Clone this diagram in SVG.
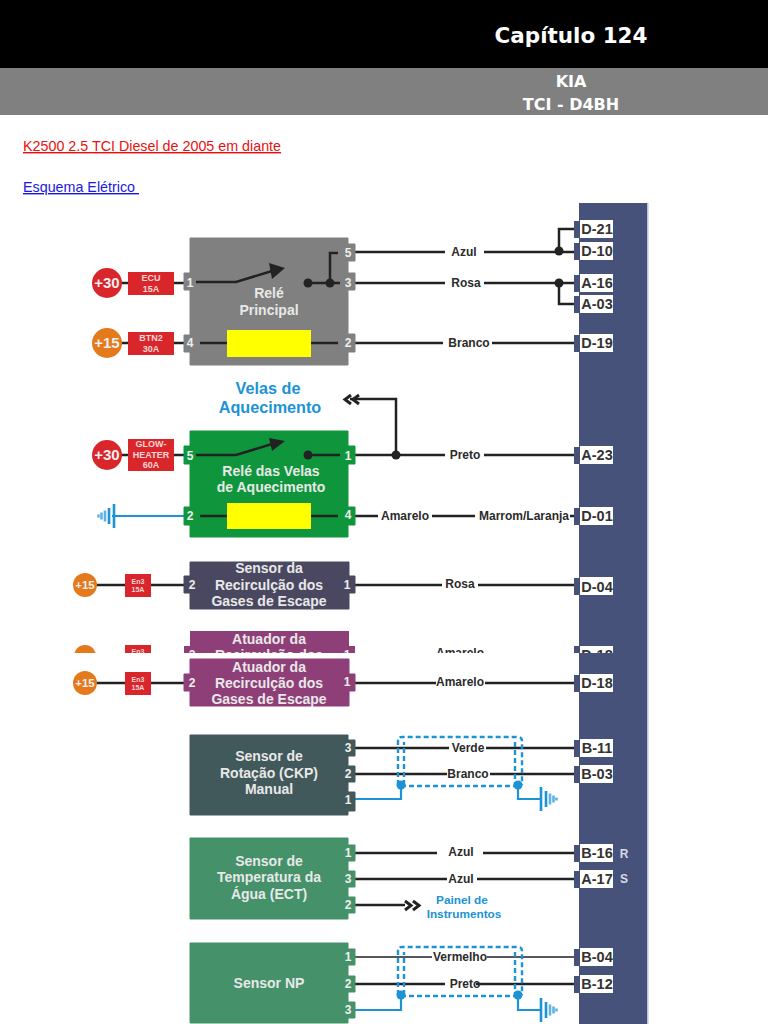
<svg xmlns="http://www.w3.org/2000/svg" width="768" height="1024" viewBox="0 0 768 1024">
<style>
text{font-family:"Liberation Sans",Arial,sans-serif;font-weight:bold}
.w{fill:none;stroke:#222;stroke-width:2.5}
.thin{stroke-width:1.5}
.b{fill:none;stroke:#1c93d4;stroke-width:2.2}
.d{fill:none;stroke:#1c93d4;stroke-width:2.4;stroke-dasharray:5 3}
.g{fill:none;stroke:#1c93d4;stroke-width:2.6}
.lbl{font-size:12px;fill:#2b2b2b;text-anchor:middle}
.pin{font-size:12px;fill:#eee;text-anchor:middle}
.t{font-size:14px;fill:#e8e8e8;text-anchor:middle}
.tag{fill:#fff}
.tab{fill:#47527a}
.pl{font-size:14.5px;fill:#333;text-anchor:middle}
.fuse{fill:#d9262a}
.ft{fill:#f4d6d6;text-anchor:middle;font-size:9px}
.fs{fill:#f4d6d6;text-anchor:middle;font-size:7px}
.r30{fill:#d9262a}
.o15{fill:#e57a1c}
.ct{fill:#eee;font-size:15px;text-anchor:middle}
.cs{fill:#eee;font-size:11.5px;text-anchor:middle}
.dot{fill:#222}
.bd{fill:#1c93d4}
.bt{fill:#1c93d4;text-anchor:middle;font-size:16.2px}
.bt2{fill:#1c93d4;text-anchor:middle;font-size:11.8px}
.hd{font-family:"DejaVu Sans",sans-serif;fill:#fff;text-anchor:middle}
.chev{fill:none;stroke:#222;stroke-width:3}
</style>
<defs>
<clipPath id="cut"><rect x="0" y="600" width="768" height="53"/></clipPath>
<g id="gnd"><path class="g" d="M0 -12V12M5 -8V8"/><path class="g" d="M9 -5.5V5.5M12.5 -3.5V3.5M15.5 -1.5V1.5" opacity="0.7"/></g>
</defs>
<rect width="768" height="1024" fill="#fff"/>
<g id="header">
<rect width="768" height="68" fill="#000"/>
<rect y="68" width="768" height="47" fill="#808080"/>
<text class="hd" x="571" y="43" font-size="22" textLength="153" lengthAdjust="spacingAndGlyphs">Capítulo 124</text>
<text class="hd" x="571" y="87" font-size="16">KIA</text>
<text class="hd" x="571" y="110" font-size="16">TCI - D4BH</text>
<text x="23" y="151" font-size="14.3" fill="#e81010" style="font-weight:normal" text-decoration="underline">K2500 2.5 TCI Diesel de 2005 em diante</text>
<text x="23" y="192" font-size="14.3" fill="#1a1ae0" style="font-weight:normal" text-decoration="underline">Esquema Elétrico&#160;</text>
</g>
<g id="ecu-bus"><rect x="579" y="203" width="69" height="821" fill="#47527a"/><rect x="647" y="203" width="1.5" height="821" fill="#b9c2d8"/></g>
<g id="connectors">
<path class="w" d="M355 252H445M484 252H574M559 251V229H574"/>
<path class="w" d="M355 283H445M484 283H574M559 283V304H574"/>
<path class="w" d="M355 343H443M492 343H574"/>
<path class="w" d="M355 455H445M484 455H574M396 455V399H350"/>
<path class="w" d="M355 516H378M432 516H475M570 516H574"/>
<path class="w" d="M355 585H442M478 585H574"/>
<path class="w" d="M355 683H436M485 683H574"/>
<path class="w" d="M355 748H449M486 748H574M355 774H447M490 774H574"/>
<path class="w" d="M355 853H437M483 853H574M355 879H447M477 879H574"/>
<path class="w" d="M355 905H405"/>
<path class="w thin" d="M355 957H432M487 957H574"/>
<path class="w" d="M355 984H445M476 984H574"/>
<path class="w" d="M102 283H128M174 283H184M102 343H128M174 343H184M102 455H128M174 455H184"/>
<path class="w" d="M95 585H125M151 585H184M95 683H125M151 683H184"/>
<path class="b" d="M112 516H184"/>
<path class="b" d="M355 799H401V785M518 785V799H541"/>
<path class="b" d="M355 1010H401V995M518 995V1010H541"/>
<path class="d" d="M398 785V741Q398 737 402 737H518Q522 737 522 741V785M404 785V742M515 742V785M401 786H518"/>
<path class="d" d="M398 995V951Q398 947 402 947H518Q522 947 522 951V995M404 995V952M515 952V995M401 996H518"/>
<circle class="dot" cx="559" cy="251" r="4.5"/><circle class="dot" cx="559" cy="283" r="4.5"/><circle class="dot" cx="396" cy="455" r="4.5"/>
<circle class="bd" cx="401" cy="785" r="4.5"/><circle class="bd" cx="518" cy="785" r="4.5"/>
<circle class="bd" cx="401" cy="995" r="4.5"/><circle class="bd" cx="518" cy="995" r="4.5"/>
<use href="#gnd" transform="translate(541 799)"/>
<use href="#gnd" transform="translate(541 1010)"/>
<use href="#gnd" transform="translate(114 516) scale(-1 1)"/>
<path class="chev" d="M351 395l-6 4.5 6 4.5M359 395l-6 4.5 6 4.5"/>
<path class="chev" d="M405 901l6 4.5-6 4.5M413 901l6 4.5-6 4.5"/>
</g>
<g id="wire-labels">
<text class="lbl" x="464" y="256">Azul</text><text class="lbl" x="466" y="287">Rosa</text><text class="lbl" x="469" y="347">Branco</text>
<text class="lbl" x="465" y="459">Preto</text><text class="lbl" x="405" y="520">Amarelo</text><text class="lbl" x="524" y="520">Marrom/Laranja</text>
<text class="lbl" x="460" y="588">Rosa</text><text class="lbl" x="460" y="686">Amarelo</text>
<text class="lbl" x="468" y="752">Verde</text><text class="lbl" x="468" y="778">Branco</text>
<text class="lbl" x="461" y="856">Azul</text><text class="lbl" x="461" y="883">Azul</text>
<text class="lbl" x="460" y="961">Vermelho</text><text class="lbl" x="465" y="988">Preto</text>
<text class="bt2" x="462" y="904">Painel de</text><text class="bt2" x="464" y="918">Instrumentos</text>
<text class="bt" x="268" y="394">Velas de</text><text class="bt" x="270" y="413">Aquecimento</text>
</g>
<g id="pins">
<g id="pin-d21"><rect class="tab" x="574" y="221" width="6" height="17"/><rect class="tag" x="580" y="220" width="33" height="18"/><text class="pl" x="597" y="234">D-21</text></g>
<g id="pin-d10"><rect class="tab" x="574" y="243" width="6" height="17"/><rect class="tag" x="580" y="242" width="33" height="18"/><text class="pl" x="597" y="256">D-10</text></g>
<g id="pin-a16"><rect class="tab" x="574" y="275" width="6" height="17"/><rect class="tag" x="580" y="274" width="33" height="18"/><text class="pl" x="597" y="288">A-16</text></g>
<g id="pin-a03"><rect class="tab" x="574" y="296" width="6" height="17"/><rect class="tag" x="580" y="295" width="33" height="18"/><text class="pl" x="597" y="309">A-03</text></g>
<g id="pin-d19"><rect class="tab" x="574" y="335" width="6" height="17"/><rect class="tag" x="580" y="334" width="33" height="18"/><text class="pl" x="597" y="348">D-19</text></g>
<g id="pin-a23"><rect class="tab" x="574" y="447" width="6" height="17"/><rect class="tag" x="580" y="446" width="33" height="18"/><text class="pl" x="597" y="460">A-23</text></g>
<g id="pin-d01"><rect class="tab" x="574" y="508" width="6" height="17"/><rect class="tag" x="580" y="507" width="33" height="18"/><text class="pl" x="597" y="521">D-01</text></g>
<g id="pin-d04"><rect class="tab" x="574" y="578" width="6" height="17"/><rect class="tag" x="580" y="577" width="33" height="18"/><text class="pl" x="597" y="592">D-04</text></g>
<g id="pin-d18"><rect class="tab" x="574" y="675" width="6" height="17"/><rect class="tag" x="580" y="674" width="33" height="18"/><text class="pl" x="597" y="688">D-18</text></g>
<g id="pin-b11"><rect class="tab" x="574" y="740" width="6" height="17"/><rect class="tag" x="580" y="739" width="33" height="18"/><text class="pl" x="597" y="753">B-11</text></g>
<g id="pin-b03"><rect class="tab" x="574" y="766" width="6" height="17"/><rect class="tag" x="580" y="765" width="33" height="18"/><text class="pl" x="597" y="779">B-03</text></g>
<g id="pin-b16"><rect class="tab" x="574" y="845" width="6" height="17"/><rect class="tag" x="580" y="844" width="33" height="18"/><text class="pl" x="597" y="858">B-16</text></g>
<g id="pin-a17"><rect class="tab" x="574" y="871" width="6" height="17"/><rect class="tag" x="580" y="870" width="33" height="18"/><text class="pl" x="597" y="884">A-17</text></g>
<g id="pin-b04"><rect class="tab" x="574" y="949" width="6" height="17"/><rect class="tag" x="580" y="948" width="33" height="18"/><text class="pl" x="597" y="962">B-04</text></g>
<g id="pin-b12"><rect class="tab" x="574" y="976" width="6" height="17"/><rect class="tag" x="580" y="975" width="33" height="18"/><text class="pl" x="597" y="989">B-12</text></g>
<text x="624" y="858" font-size="12" fill="#d5dbe8" text-anchor="middle">R</text>
<text x="624" y="883" font-size="12" fill="#d5dbe8" text-anchor="middle">S</text>
</g>
<g id="rele-principal">
<path d="M190 238H348V244H355V261H348V273H355V290H348V334H355V352H348V365H190V352H184V335H190V290H184V273H190Z" fill="#808080" stroke="#808080" stroke-linejoin="round"/>
<text class="pin" x="190" y="287">1</text><text class="pin" x="190" y="347">4</text><text class="pin" x="348" y="257">5</text><text class="pin" x="348" y="287">3</text><text class="pin" x="348" y="347">2</text>
<path class="w" d="M196 282H236L272 271M308 283H340M330 283V253H338M200 343H227M311 343H338"/>
<path d="M269 263L285 268L272 279Z" fill="#222"/>
<circle class="dot" cx="308" cy="283" r="4.5"/><circle class="dot" cx="330" cy="283" r="4.5"/>
<rect x="227" y="330" width="84" height="27" fill="#ff0"/>
<text class="t" x="269" y="298">Relé</text><text class="t" x="269" y="315">Principal</text>
</g>
<g id="rele-velas">
<path d="M190 431H348V446H355V464H348V507H355V525H348V537H190V525H184V507H190V464H184V446H190Z" fill="#0f963c" stroke="#0f963c" stroke-linejoin="round"/>
<text class="pin" x="190" y="460">5</text><text class="pin" x="190" y="520">2</text><text class="pin" x="348" y="460">1</text><text class="pin" x="348" y="519">4</text>
<path class="w" d="M196 455H236L272 444M308 455H340M200 516H227M311 516H338"/>
<path d="M269 438L285 441L272 451Z" fill="#222"/>
<circle class="dot" cx="308" cy="455" r="4.5"/>
<rect x="227" y="503" width="84" height="26" fill="#ff0"/>
<text class="t" x="271" y="476">Relé das Velas</text><text class="t" x="271" y="492">de Aquecimento</text>
</g>
<g id="sensor-recirculacao">
<path d="M190 562H349V576H355V593H349V609H190V593H184V576H190Z" fill="#4a4860" stroke="#4a4860" stroke-linejoin="round"/>
<text class="pin" x="192" y="589">2</text><text class="pin" x="347" y="589">1</text>
<text class="t" x="269" y="573">Sensor da</text><text class="t" x="269" y="590">Recirculção dos</text><text class="t" x="269" y="606">Gases de Escape</text>
</g>
<g id="atuador-cortado" clip-path="url(#cut)">
<path d="M190 631H349V646H355V662H349V678H190V662H184V646H190Z" fill="#8e3f78"/>
<text class="t" x="269" y="644">Atuador da</text><text class="t" x="269" y="660">Recirculção dos</text>
<text class="pin" x="192" y="659">2</text><text class="pin" x="347" y="659">1</text>
<circle class="o15" cx="85" cy="656" r="11"/><rect class="fuse" x="125" y="645" width="26" height="23"/><text class="fs" x="138" y="654">En3</text>
<rect class="tab" x="574" y="646" width="6" height="18"/><rect class="tag" x="580" y="646" width="33" height="18"/><text class="pl" x="597" y="660">D-18</text>
<text class="lbl" x="460" y="657">Amarelo</text>
</g>
<g id="atuador-recirculacao">
<path d="M190 659H349V674H355V691H349V706H190V691H184V674H190Z" fill="#8e3f78" stroke="#8e3f78" stroke-linejoin="round"/>
<text class="pin" x="192" y="687">2</text><text class="pin" x="347" y="686">1</text>
<text class="t" x="269" y="672">Atuador da</text><text class="t" x="269" y="688">Recirculção dos</text><text class="t" x="269" y="704">Gases de Escape</text>
</g>
<g id="sensor-ckp">
<path d="M190 735H348V740H355V756H348V766H355V782H348V792H355V811H348V815H190Z" fill="#42595c" stroke="#42595c" stroke-linejoin="round"/>
<text class="pin" x="348" y="752">3</text><text class="pin" x="348" y="778">2</text><text class="pin" x="348" y="804">1</text>
<text class="t" x="269" y="761">Sensor de</text><text class="t" x="269" y="778">Rotação (CKP)</text><text class="t" x="269" y="794">Manual</text>
</g>
<g id="sensor-ect">
<path d="M190 838H348V845H355V861H348V871H355V887H348V897H355V913H348V919H190Z" fill="#44916a" stroke="#44916a" stroke-linejoin="round"/>
<text class="pin" x="348" y="857">1</text><text class="pin" x="348" y="883">3</text><text class="pin" x="348" y="909">2</text>
<text class="t" x="269" y="866">Sensor de</text><text class="t" x="269" y="882">Temperatura da</text><text class="t" x="269" y="899">Água (ECT)</text>
</g>
<g id="sensor-np">
<path d="M190 943H348V949H355V965H348V976H355V992H348V1002H355V1018H348V1023H190Z" fill="#44916a" stroke="#44916a" stroke-linejoin="round"/>
<text class="pin" x="348" y="961">1</text><text class="pin" x="348" y="988">2</text><text class="pin" x="348" y="1014">3</text>
<text class="t" x="269" y="988">Sensor NP</text>
</g>
<g id="fontes">
<g id="f30a"><circle class="r30" cx="107" cy="283" r="15"/><text class="ct" x="107" y="288">+30</text></g>
<g id="fuse-ecu"><rect class="fuse" x="128" y="272" width="46" height="23"/><text class="ft" x="151" y="281">ECU</text><text class="ft" x="151" y="292">15A</text></g>
<g id="f15a"><circle class="o15" cx="107" cy="343" r="15"/><text class="ct" x="107" y="348">+15</text></g>
<g id="fuse-btn2"><rect class="fuse" x="128" y="332" width="46" height="23"/><text class="ft" x="151" y="341">BTN2</text><text class="ft" x="151" y="352">30A</text></g>
<g id="f30b"><circle class="r30" cx="107" cy="455" r="15"/><text class="ct" x="107" y="460">+30</text></g>
<g id="fuse-glow"><rect class="fuse" x="128" y="439" width="46" height="32"/><text class="ft" x="151" y="447">GLOW-</text><text class="ft" x="151" y="458">HEATER</text><text class="ft" x="151" y="468">60A</text></g>
<g id="f15c"><circle class="o15" cx="85" cy="585" r="12"/><text class="cs" x="85" y="589">+15</text></g>
<g id="fuse-en3a"><rect class="fuse" x="125" y="574" width="26" height="23"/><text class="fs" x="138" y="584">En3</text><text class="fs" x="138" y="592">15A</text></g>
<g id="f15d"><circle class="o15" cx="85" cy="683" r="12"/><text class="cs" x="85" y="687">+15</text></g>
<g id="fuse-en3b"><rect class="fuse" x="125" y="672" width="26" height="23"/><text class="fs" x="138" y="682">En3</text><text class="fs" x="138" y="690">15A</text></g>
</g>
</svg>
